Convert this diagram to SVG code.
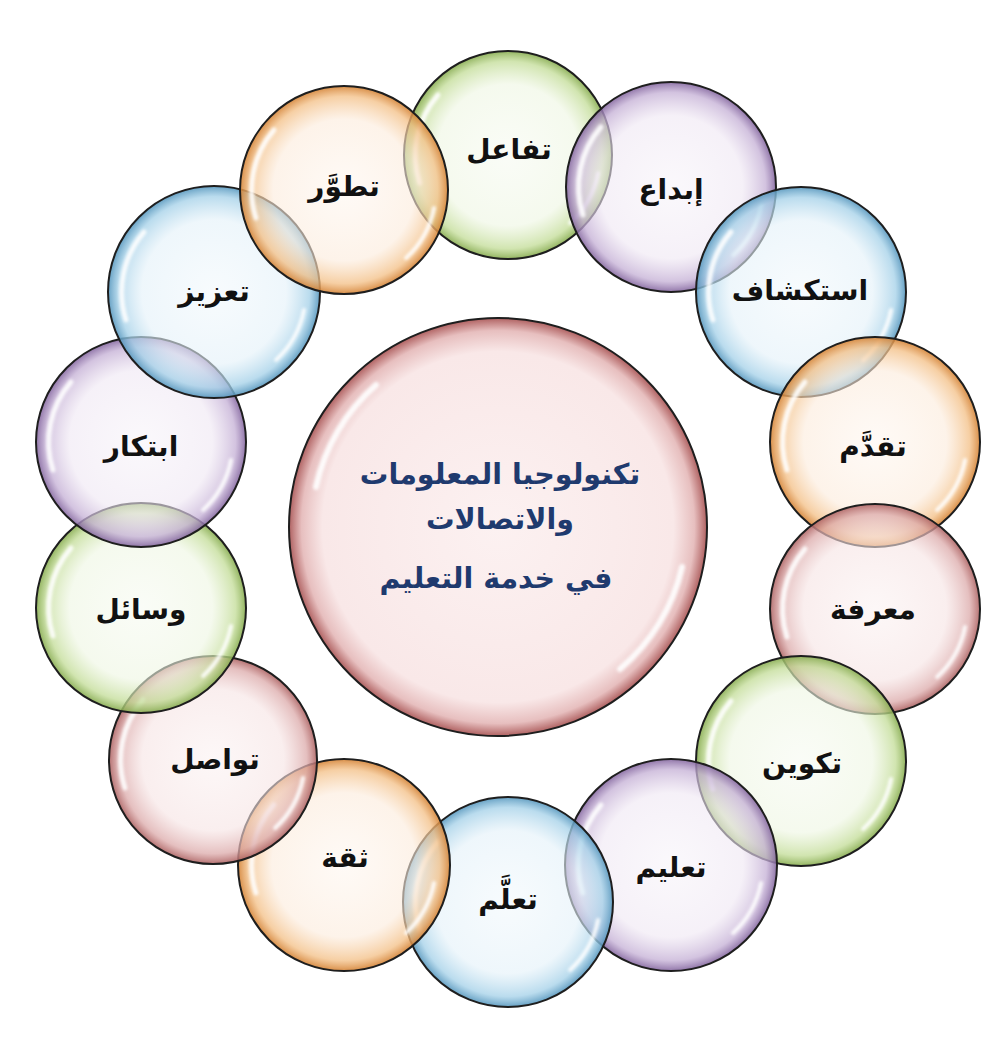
<svg xmlns="http://www.w3.org/2000/svg" xmlns:xlink="http://www.w3.org/1999/xlink" width="998" height="1059" viewBox="0 0 998 1059">
<style>
.bub{stroke:#1e1e1e;stroke-width:2}
.lbl{font-family:"DejaVu Sans",sans-serif;font-weight:bold;font-size:28px;fill:#111;text-anchor:middle}
.ctr{font-family:"DejaVu Sans",sans-serif;font-weight:bold;font-size:28.5px;fill:#1f3a6e;text-anchor:middle}
</style>
<defs>
<filter id="blur" x="-20%" y="-20%" width="140%" height="140%"><feGaussianBlur stdDeviation="1.8"/></filter>
<radialGradient id="gGreen" cx="50%" cy="50%" r="50%">
<stop offset="0" stop-color="#f6faf0" stop-opacity="0.55"/>
<stop offset="0.68" stop-color="#eef6e2" stop-opacity="0.6"/>
<stop offset="0.9" stop-color="#c2dc96" stop-opacity="0.75"/>
<stop offset="1" stop-color="#86ab4e" stop-opacity="0.9"/>
</radialGradient>
<radialGradient id="gPurple" cx="50%" cy="50%" r="50%">
<stop offset="0" stop-color="#f7f3f9" stop-opacity="0.55"/>
<stop offset="0.68" stop-color="#efe7f3" stop-opacity="0.6"/>
<stop offset="0.9" stop-color="#c4afd5" stop-opacity="0.75"/>
<stop offset="1" stop-color="#84669f" stop-opacity="0.9"/>
</radialGradient>
<radialGradient id="gBlue" cx="50%" cy="50%" r="50%">
<stop offset="0" stop-color="#f1f8fc" stop-opacity="0.55"/>
<stop offset="0.68" stop-color="#e3f1f9" stop-opacity="0.6"/>
<stop offset="0.9" stop-color="#a3d0e8" stop-opacity="0.75"/>
<stop offset="1" stop-color="#5596bd" stop-opacity="0.9"/>
</radialGradient>
<radialGradient id="gOrange" cx="50%" cy="50%" r="50%">
<stop offset="0" stop-color="#fef6ef" stop-opacity="0.55"/>
<stop offset="0.68" stop-color="#fcebdb" stop-opacity="0.6"/>
<stop offset="0.9" stop-color="#f3bf85" stop-opacity="0.75"/>
<stop offset="1" stop-color="#d48234" stop-opacity="0.9"/>
</radialGradient>
<radialGradient id="gRed" cx="50%" cy="50%" r="50%">
<stop offset="0" stop-color="#fbf1f1" stop-opacity="0.55"/>
<stop offset="0.68" stop-color="#f6e3e3" stop-opacity="0.6"/>
<stop offset="0.9" stop-color="#dcaaaa" stop-opacity="0.75"/>
<stop offset="1" stop-color="#ad6262" stop-opacity="0.9"/>
</radialGradient>
<radialGradient id="gCenter" cx="50%" cy="50%" r="50%">
<stop offset="0" stop-color="#fcf1f1"/>
<stop offset="0.84" stop-color="#f9e8e8"/>
<stop offset="0.94" stop-color="#e7bfbf"/>
<stop offset="1" stop-color="#b06262"/>
</radialGradient>
<g id="glint" fill="none" stroke="#ffffff" stroke-linecap="round" filter="url(#blur)" opacity="0.9">
<path d="M -88 28 A 92 92 0 0 1 -70 -60" stroke-width="5"/>
<path d="M 90 18 A 92 92 0 0 1 62 68" stroke-width="4"/>
</g>
<g id="glintBig" fill="none" stroke="#ffffff" stroke-linecap="round" filter="url(#blur)" opacity="0.9">
<path d="M -182 -40 A 188 188 0 0 1 -122 -142" stroke-width="6"/>
<path d="M 184 40 A 188 188 0 0 1 122 142" stroke-width="6"/>
</g>
</defs>
<rect width="998" height="1059" fill="#ffffff"/>
<g id="connectors"/>
<g id="n-center">
<circle class="bub" cx="498" cy="527" r="209" fill="url(#gCenter)"/>
<use xlink:href="#glintBig" x="498" y="527"/>
<text class="ctr" x="500" y="484">تكنولوجيا المعلومات</text>
<text class="ctr" x="500" y="529">والاتصالات</text>
<text class="ctr" x="496" y="588">في خدمة التعليم</text>
</g>
<g id="n-tafaul">
<circle class="bub" cx="508" cy="155" r="104" fill="url(#gGreen)"/>
<use xlink:href="#glint" x="508" y="155"/>
<text class="lbl" x="509" y="159">تفاعل</text>
</g>
<g id="n-ibda">
<circle class="bub" cx="671" cy="187" r="105" fill="url(#gPurple)"/>
<use xlink:href="#glint" x="671" y="187"/>
<text class="lbl" x="671" y="199">إبداع</text>
</g>
<g id="n-istikshaf">
<circle class="bub" cx="801" cy="292" r="105" fill="url(#gBlue)"/>
<use xlink:href="#glint" x="801" y="292"/>
<text class="lbl" x="800" y="300">استكشاف</text>
</g>
<g id="n-taqaddum">
<circle class="bub" cx="875" cy="442" r="105" fill="url(#gOrange)"/>
<use xlink:href="#glint" x="875" y="442"/>
<text class="lbl" x="873" y="456">تقدَّم</text>
</g>
<g id="n-maarifa">
<circle class="bub" cx="875" cy="609" r="105" fill="url(#gRed)"/>
<use xlink:href="#glint" x="875" y="609"/>
<text class="lbl" x="873" y="619">معرفة</text>
</g>
<g id="n-takwin">
<circle class="bub" cx="801" cy="761" r="105" fill="url(#gGreen)"/>
<use xlink:href="#glint" x="801" y="761"/>
<text class="lbl" x="802" y="773">تكوين</text>
</g>
<g id="n-talim">
<circle class="bub" cx="671" cy="865" r="106" fill="url(#gPurple)"/>
<use xlink:href="#glint" x="671" y="865"/>
<text class="lbl" x="671" y="877">تعليم</text>
</g>
<g id="n-taallum">
<circle class="bub" cx="508" cy="902" r="105" fill="url(#gBlue)"/>
<use xlink:href="#glint" x="508" y="902"/>
<text class="lbl" x="508" y="909">تعلَّم</text>
</g>
<g id="n-thiqa">
<circle class="bub" cx="344" cy="865" r="106" fill="url(#gOrange)"/>
<use xlink:href="#glint" x="344" y="865"/>
<text class="lbl" x="345" y="867">ثقة</text>
</g>
<g id="n-tawasul">
<circle class="bub" cx="213" cy="760" r="104" fill="url(#gRed)"/>
<use xlink:href="#glint" x="213" y="760"/>
<text class="lbl" x="215" y="769">تواصل</text>
</g>
<g id="n-wasail">
<circle class="bub" cx="141" cy="608" r="105" fill="url(#gGreen)"/>
<use xlink:href="#glint" x="141" y="608"/>
<text class="lbl" x="141" y="619">وسائل</text>
</g>
<g id="n-ibtikar">
<circle class="bub" cx="141" cy="442" r="105" fill="url(#gPurple)"/>
<use xlink:href="#glint" x="141" y="442"/>
<text class="lbl" x="141" y="456">ابتكار</text>
</g>
<g id="n-taziz">
<circle class="bub" cx="214" cy="292" r="106" fill="url(#gBlue)"/>
<use xlink:href="#glint" x="214" y="292"/>
<text class="lbl" x="214" y="301">تعزيز</text>
</g>
<g id="n-tatawwur">
<circle class="bub" cx="344" cy="190" r="104" fill="url(#gOrange)"/>
<use xlink:href="#glint" x="344" y="190"/>
<text class="lbl" x="344" y="196">تطوَّر</text>
</g>
</svg>
